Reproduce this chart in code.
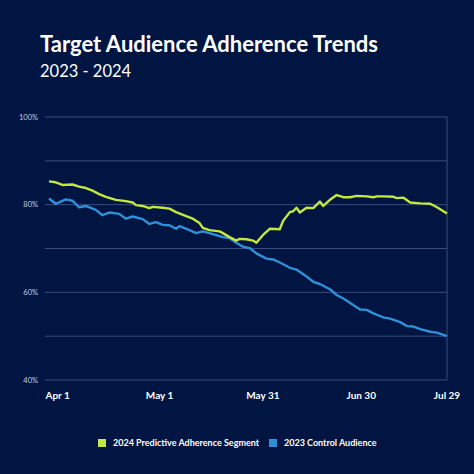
<!DOCTYPE html>
<html lang="en">
  <head>
    <meta charset="UTF-8" />
    <title>Target Audience Adherence Trends</title>
    <style>
      body { margin: 0; background: #011543; }
      svg { display: block; font-family: Lato, "Open Sans", sans-serif; }
    </style>
  </head>
  <body>
    <div class="trendChart"></div>
    <script src="https://d3js.org/d3.v7.min.js"></script>
    <script>
      // days after Apr 1 + adherence %
      const segmentDays = [0, 2, 4, 7, 9, 11, 13, 15, 17, 20, 23, 25, 26, 28, 30, 31, 34, 36, 38, 41, 43, 45, 46, 48, 51, 52, 54, 56, 57, 59, 61, 62, 64, 66, 69, 70, 72, 73, 74, 75, 77, 79, 81, 82, 84, 86, 88, 90, 92, 95, 97, 98, 100, 103, 104, 106, 108, 111, 114, 116, 119];
      const segmentValues = [85.3, 85.1, 84.5, 84.6, 84.1, 83.8, 83.2, 82.4, 81.8, 81.1, 80.8, 80.5, 79.9, 79.7, 79.2, 79.5, 79.3, 79.1, 78.3, 77.4, 76.8, 75.8, 74.7, 74.2, 73.9, 73.5, 72.6, 71.8, 72.2, 72.1, 71.8, 71.3, 73.1, 74.5, 74.4, 76.3, 78.3, 78.5, 79.3, 78.2, 79.3, 79.2, 80.7, 79.7, 81.1, 82.2, 81.7, 81.7, 82.0, 81.9, 81.7, 81.9, 81.9, 81.8, 81.5, 81.6, 80.5, 80.3, 80.2, 79.4, 78.0];

      const controlDays = [0, 2, 5, 7, 9, 11, 14, 16, 18, 21, 23, 25, 28, 30, 32, 34, 36, 38, 39, 42, 44, 46, 48, 52, 54, 56, 58, 60, 62, 65, 67, 69, 72, 74, 77, 79, 81, 84, 86, 88, 93, 95, 97, 100, 102, 105, 107, 109, 111, 114, 116, 119];
      const controlValues = [81.4, 80.2, 81.2, 80.9, 79.4, 79.7, 78.8, 77.6, 78.2, 77.9, 76.8, 77.3, 76.7, 75.6, 76.0, 75.4, 75.3, 74.5, 75.1, 74.2, 73.5, 73.9, 73.5, 72.6, 72.4, 71.3, 70.4, 70.1, 68.9, 67.7, 67.5, 66.8, 65.6, 65.2, 63.6, 62.4, 61.9, 60.7, 59.4, 58.6, 56.1, 56.0, 55.2, 54.3, 54.0, 53.2, 52.3, 52.2, 51.6, 51.0, 50.8, 50.0];

      const tickDays = [0, 30, 60, 90, 119];
      const yTicks = [40, 50, 60, 70, 80, 90, 100];
      const yLabels = [40, 60, 80, 100];
      const seriesNames = ["2024 Predictive Adherence Segment", "2023 Control Audience"];
      const seriesColors = ["#c4e83f", "#2f90d8"];

      const drawChart = () => {
        const svgWidth = 474, svgHeight = 474;
        const margin = { top: 117, right: 27, bottom: 94, left: 49 };

        const svg = d3
          .select(".trendChart")
          .append("svg")
          .attr("width", svgWidth)
          .attr("height", svgHeight);

        svg.append("rect").attr("width", svgWidth).attr("height", svgHeight).attr("fill", "#011543");

        // 標題
        svg.append("text")
          .attr("x", 40).attr("y", 52)
          .attr("fill", "#ffffff")
          .style("font-size", "22px").style("font-weight", 700)
          .text("Target Audience Adherence Trends");
        svg.append("text")
          .attr("x", 40).attr("y", 77)
          .attr("fill", "#ffffff")
          .style("font-size", "16.5px")
          .text("2023 - 2024");

        const start = new Date(2024, 3, 1);
        const toDate = (d) => d3.timeDay.offset(start, d);

        const xScale = d3
          .scaleTime()
          .domain([start, toDate(119)])
          .range([margin.left, svgWidth - margin.right]);

        const yScale = d3
          .scaleLinear()
          .domain([40, 100])
          .range([svgHeight - margin.bottom, margin.top]);

        const gridColor = "#3b4c7c";

        // 格線
        svg.append("g")
          .selectAll("line")
          .data(yTicks)
          .join("line")
          .attr("x1", 45)
          .attr("x2", xScale.range()[1])
          .attr("y1", (d) => yScale(d))
          .attr("y2", (d) => yScale(d))
          .attr("stroke", gridColor)
          .attr("stroke-width", 1);

        svg.append("line")
          .attr("x1", xScale.range()[1]).attr("x2", xScale.range()[1])
          .attr("y1", yScale(100)).attr("y2", yScale(40))
          .attr("stroke", gridColor);

        svg.append("g")
          .selectAll("text")
          .data(yLabels)
          .join("text")
          .attr("x", 38)
          .attr("y", (d) => yScale(d) + 2.5)
          .attr("text-anchor", "end")
          .attr("fill", "#c9cee2")
          .style("font-size", "7.5px")
          .text((d) => d + "%");

        // X軸標籤
        const fmt = d3.timeFormat("%b %-d");
        svg.append("g")
          .selectAll("text")
          .data(tickDays)
          .join("text")
          .attr("x", (d, i) => xScale(toDate(d)) + (i === tickDays.length - 1 ? 0 : -3.5))
          .attr("y", 399)
          .attr("text-anchor", (d, i) => (i === tickDays.length - 1 ? "middle" : "start"))
          .attr("fill", "#ffffff")
          .style("font-size", "10px").style("font-weight", 700)
          .text((d) => fmt(toDate(d)));

        // 線
        const line = d3
          .line()
          .x((d) => xScale(toDate(d[0])))
          .y((d) => yScale(d[1]));

        const series = [
          d3.zip(controlDays, controlValues),
          d3.zip(segmentDays, segmentValues),
        ];
        const colors = [seriesColors[1], seriesColors[0]];

        svg.append("g")
          .selectAll("path")
          .data(series)
          .join("path")
          .attr("d", line)
          .attr("fill", "none")
          .attr("stroke", (d, i) => colors[i])
          .attr("stroke-width", 2.4)
          .attr("stroke-linejoin", "round");

        // 圖例
        const legendX = [98, 269];
        const legend = svg.append("g")
          .selectAll("g")
          .data(seriesNames)
          .join("g")
          .attr("transform", (d, i) => `translate(${legendX[i]}, 439)`);
        legend.append("rect")
          .attr("width", 8).attr("height", 8)
          .attr("fill", (d, i) => seriesColors[i]);
        legend.append("text")
          .attr("x", 15).attr("y", 7)
          .attr("fill", "#ffffff")
          .style("font-size", "9px").style("font-weight", 700)
          .text((d) => d);
      };

      drawChart();
    </script>
  </body>
</html>
